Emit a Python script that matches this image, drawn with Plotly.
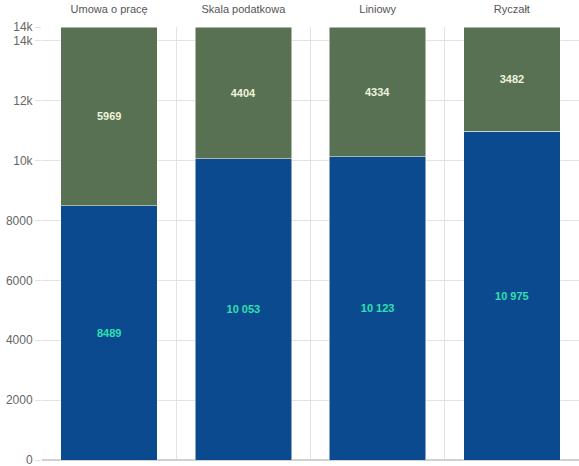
import plotly.graph_objects as go

CATEGORIES = ['Umowa o pracę', 'Skala podatkowa', 'Liniowy', 'Ryczałt']
NET = [8489, 10053, 10123, 10975]
COSTS = [5969, 4404, 4334, 3482]
Y_TICKS = [0, 2000, 4000, 6000, 8000, 10000, 12000, 14000, 14458]
Y_LABELS = ['0', '2000', '4000', '6000', '8000', '10k', '12k', '14k', '14k']


def fmt(v):
    # polish style: space as thousands separator only from 10 000
    if v >= 10000:
        return '{:,}'.format(v).replace(',', ' ')
    return str(v)


fig = go.Figure()
fig.add_trace(go.Bar(x=CATEGORIES, y=NET, text=[fmt(v) for v in NET],
                     marker=dict(color='#0b4a8e', line=dict(color='#ffffff', width=0.5)),
                     textposition='inside', insidetextanchor='middle',
                     textfont=dict(color='#2ee0b0', size=11, family='Liberation Sans', weight='bold'),
                     hoverinfo='skip'))
fig.add_trace(go.Bar(x=CATEGORIES, y=COSTS, text=[fmt(v) for v in COSTS],
                     marker=dict(color='#577152', line=dict(color='#ffffff', width=0.5)),
                     textposition='inside', insidetextanchor='middle',
                     textfont=dict(color='#eef3dc', size=11, family='Liberation Sans', weight='bold'),
                     hoverinfo='skip'))

fig.update_layout(
    barmode='stack', bargap=0.28, showlegend=False,
    width=579, height=466,
    margin=dict(l=42, r=0, t=27, b=6, autoexpand=False),
    paper_bgcolor='white', plot_bgcolor='white',
    font=dict(family='Liberation Sans', size=12, color='#666666'),
    uniformtext=dict(mode='show', minsize=11),
)
fig.update_xaxes(side='top', tickson='boundaries', showgrid=True, gridcolor='#e3e3e3',
                 gridwidth=1, ticks='', tickfont=dict(color='#555555', size=11),
                 ticklabelstandoff=11, showline=False, zeroline=False, automargin=False)
fig.update_yaxes(range=[0, 14458], tickvals=Y_TICKS, ticktext=Y_LABELS,
                 showgrid=True, gridcolor='#e3e3e3', ticks='outside', ticklen=6,
                 tickcolor='#e3e3e3', zeroline=True, zerolinecolor='#d0d0d0',
                 tickfont=dict(color='#666666', size=12), ticklabeloverflow='allow',
                 showline=False, automargin=False)

# page body has a default 8px margin, drop it so the figure sits at 0,0
fig.write_html('out.html', config={'displayModeBar': False},
               post_script="document.body.style.margin='0';")
